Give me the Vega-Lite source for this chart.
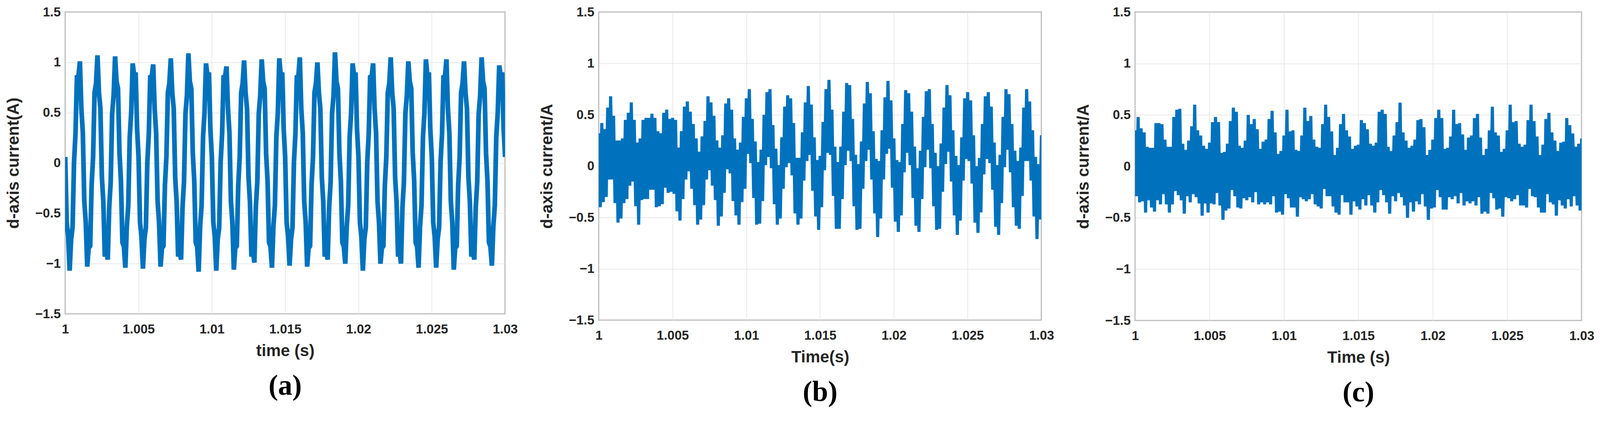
{
  "$schema": "https://vega.github.io/schema/vega-lite/v6.json",
  "background": "white",
  "padding": {"left": 12, "top": 13, "right": 0, "bottom": 0},
  "bounds": "flush",
  "spacing": 240,
  "data": {"values": [
    {"t":1.0000,"a":0.06,"b":0.32,"c":0.35},{"t":1.0001,"a":-0.59,"b":-0.40,"c":-0.29},{"t":1.0002,"a":-0.73,"b":0.42,"c":0.48},{"t":1.0003,"a":-1.07,"b":-0.35,"c":-0.35},{"t":1.0004,"a":-0.76,"b":0.36,"c":0.37},
    {"t":1.0005,"a":-0.64,"b":-0.30,"c":-0.34},{"t":1.0006,"a":0.01,"b":0.57,"c":0.33},{"t":1.0007,"a":0.29,"b":-0.13,"c":-0.45},{"t":1.0008,"a":0.87,"b":0.68,"c":0.19},{"t":1.0009,"a":0.86,"b":-0.13,"c":-0.33},
    {"t":1.0010,"a":1.01,"b":0.49,"c":0.18},{"t":1.0011,"a":0.54,"b":-0.36,"c":-0.40},{"t":1.0012,"a":0.30,"b":0.25,"c":0.18},{"t":1.0013,"a":-0.38,"b":-0.55,"c":-0.44},{"t":1.0014,"a":-0.59,"b":0.25,"c":0.42},
    {"t":1.0015,"a":-1.03,"b":-0.51,"c":-0.33},{"t":1.0016,"a":-0.84,"b":0.27,"c":0.42},{"t":1.0017,"a":-0.83,"b":-0.36,"c":-0.37},{"t":1.0018,"a":-0.22,"b":0.45,"c":0.41},{"t":1.0019,"a":0.06,"b":-0.32,"c":-0.27},
    {"t":1.0020,"a":0.70,"b":0.52,"c":0.26},{"t":1.0021,"a":0.79,"b":-0.19,"c":-0.37},{"t":1.0022,"a":1.07,"b":0.62,"c":0.19},{"t":1.0023,"a":0.70,"b":-0.15,"c":-0.45},{"t":1.0024,"a":0.54,"b":0.45,"c":0.19},
    {"t":1.0025,"a":-0.14,"b":-0.39,"c":-0.37},{"t":1.0026,"a":-0.39,"b":0.23,"c":0.48},{"t":1.0027,"a":-0.93,"b":-0.57,"c":-0.24},{"t":1.0028,"a":-0.87,"b":0.27,"c":0.55},{"t":1.0029,"a":-0.96,"b":-0.33,"c":-0.28},
    {"t":1.0030,"a":-0.44,"b":0.45,"c":0.56},{"t":1.0031,"a":-0.19,"b":-0.32,"c":-0.33},{"t":1.0032,"a":0.49,"b":0.47,"c":0.22},{"t":1.0033,"a":0.67,"b":-0.32,"c":-0.46},{"t":1.0034,"a":1.06,"b":0.47,"c":0.16},
    {"t":1.0035,"a":0.81,"b":-0.23,"c":-0.29},{"t":1.0036,"a":0.74,"b":0.51,"c":0.25},{"t":1.0037,"a":0.10,"b":-0.23,"c":-0.35},{"t":1.0038,"a":-0.18,"b":0.47,"c":0.39},{"t":1.0039,"a":-0.79,"b":-0.40,"c":-0.27},
    {"t":1.0040,"a":-0.83,"b":0.34,"c":0.60},{"t":1.0041,"a":-1.04,"b":-0.39,"c":-0.30},{"t":1.0042,"a":-0.63,"b":0.32,"c":0.35},{"t":1.0043,"a":-0.42,"b":-0.37,"c":-0.36},{"t":1.0044,"a":0.26,"b":0.52,"c":0.30},
    {"t":1.0045,"a":0.50,"b":-0.21,"c":-0.48},{"t":1.0046,"a":0.99,"b":0.55,"c":0.20},{"t":1.0047,"a":0.87,"b":-0.26,"c":-0.36},{"t":1.0048,"a":0.90,"b":0.46,"c":0.17},{"t":1.0049,"a":0.34,"b":-0.25,"c":-0.45},
    {"t":1.0050,"a":0.06,"b":0.47,"c":0.23},{"t":1.0051,"a":-0.59,"b":-0.27,"c":-0.36},{"t":1.0052,"a":-0.73,"b":0.45,"c":0.43},{"t":1.0053,"a":-1.05,"b":-0.44,"c":-0.37},{"t":1.0054,"a":-0.76,"b":0.18,"c":0.48},
    {"t":1.0055,"a":-0.64,"b":-0.53,"c":-0.26},{"t":1.0056,"a":0.01,"b":0.34,"c":0.43},{"t":1.0057,"a":0.29,"b":-0.32,"c":-0.38},{"t":1.0058,"a":0.87,"b":0.58,"c":0.13},{"t":1.0059,"a":0.86,"b":-0.13,"c":-0.52},
    {"t":1.0060,"a":0.98,"b":0.63,"c":0.14},{"t":1.0061,"a":0.54,"b":-0.05,"c":-0.43},{"t":1.0062,"a":0.30,"b":0.53,"c":0.22},{"t":1.0063,"a":-0.38,"b":-0.22,"c":-0.41},{"t":1.0064,"a":-0.59,"b":0.41,"c":0.44},
    {"t":1.0065,"a":-1.03,"b":-0.38,"c":-0.23},{"t":1.0066,"a":-0.84,"b":0.27,"c":0.57},{"t":1.0067,"a":-0.83,"b":-0.57,"c":-0.29},{"t":1.0068,"a":-0.22,"b":0.14,"c":0.53},{"t":1.0069,"a":0.06,"b":-0.52,"c":-0.40},
    {"t":1.0070,"a":0.70,"b":0.29,"c":0.20},{"t":1.0071,"a":0.79,"b":-0.38,"c":-0.41},{"t":1.0072,"a":1.04,"b":0.44,"c":0.18},{"t":1.0073,"a":0.70,"b":-0.13,"c":-0.31},{"t":1.0074,"a":0.54,"b":0.68,"c":0.25},
    {"t":1.0075,"a":-0.14,"b":-0.04,"c":-0.33},{"t":1.0076,"a":-0.39,"b":0.62,"c":0.50},{"t":1.0077,"a":-0.93,"b":-0.19,"c":-0.30},{"t":1.0078,"a":-0.87,"b":0.49,"c":0.41},{"t":1.0079,"a":-0.96,"b":-0.33,"c":-0.35},
    {"t":1.0080,"a":-0.44,"b":0.25,"c":0.46},{"t":1.0081,"a":-0.19,"b":-0.58,"c":-0.25},{"t":1.0082,"a":0.49,"b":0.18,"c":0.36},{"t":1.0083,"a":0.67,"b":-0.49,"c":-0.37},{"t":1.0084,"a":1.09,"b":0.30,"c":0.17},
    {"t":1.0085,"a":0.81,"b":-0.26,"c":-0.35},{"t":1.0086,"a":0.74,"b":0.61,"c":0.24},{"t":1.0087,"a":0.10,"b":-0.03,"c":-0.37},{"t":1.0088,"a":-0.18,"b":0.66,"c":0.26},{"t":1.0089,"a":-0.79,"b":-0.07,"c":-0.35},
    {"t":1.0090,"a":-0.83,"b":0.55,"c":0.46},{"t":1.0091,"a":-1.08,"b":-0.34,"c":-0.37},{"t":1.0092,"a":-0.63,"b":0.27,"c":0.54},{"t":1.0093,"a":-0.42,"b":-0.48,"c":-0.29},{"t":1.0094,"a":0.26,"b":0.16,"c":0.33},
    {"t":1.0095,"a":0.50,"b":-0.57,"c":-0.45},{"t":1.0096,"a":0.99,"b":0.23,"c":0.12},{"t":1.0097,"a":0.87,"b":-0.35,"c":-0.44},{"t":1.0098,"a":0.90,"b":0.48,"c":0.15},{"t":1.0099,"a":0.34,"b":-0.22,"c":-0.47},
    {"t":1.0100,"a":0.06,"b":0.66,"c":0.30},{"t":1.0101,"a":-0.59,"b":0.12,"c":-0.27},{"t":1.0102,"a":-0.73,"b":0.75,"c":0.55},{"t":1.0103,"a":-1.07,"b":0.03,"c":-0.31},{"t":1.0104,"a":-0.76,"b":0.46,"c":0.34},
    {"t":1.0105,"a":-0.64,"b":-0.31,"c":-0.40},{"t":1.0106,"a":0.01,"b":0.24,"c":0.35},{"t":1.0107,"a":0.29,"b":-0.57,"c":-0.40},{"t":1.0108,"a":0.87,"b":0.04,"c":0.16},{"t":1.0109,"a":0.86,"b":-0.56,"c":-0.49},
    {"t":1.0110,"a":0.96,"b":0.16,"c":0.15},{"t":1.0111,"a":0.54,"b":-0.34,"c":-0.30},{"t":1.0112,"a":0.30,"b":0.50,"c":0.30},{"t":1.0113,"a":-0.38,"b":0.01,"c":-0.32},{"t":1.0114,"a":-0.59,"b":0.72,"c":0.57},
    {"t":1.0115,"a":-1.06,"b":0.09,"c":-0.34},{"t":1.0116,"a":-0.84,"b":0.75,"c":0.44},{"t":1.0117,"a":-0.83,"b":-0.02,"c":-0.32},{"t":1.0118,"a":-0.22,"b":0.40,"c":0.49},{"t":1.0119,"a":0.06,"b":-0.37,"c":-0.27},
    {"t":1.0120,"a":0.70,"b":0.17,"c":0.26},{"t":1.0121,"a":0.79,"b":-0.57,"c":-0.37},{"t":1.0122,"a":1.02,"b":0.01,"c":0.19},{"t":1.0123,"a":0.70,"b":-0.51,"c":-0.39},{"t":1.0124,"a":0.54,"b":0.28,"c":0.18},
    {"t":1.0125,"a":-0.14,"b":-0.22,"c":-0.41},{"t":1.0126,"a":-0.39,"b":0.58,"c":0.41},{"t":1.0127,"a":-0.93,"b":-0.01,"c":-0.22},{"t":1.0128,"a":-0.87,"b":0.69,"c":0.60},{"t":1.0129,"a":-0.99,"b":0.03,"c":-0.29},
    {"t":1.0130,"a":-0.44,"b":0.66,"c":0.48},{"t":1.0131,"a":-0.19,"b":-0.09,"c":-0.29},{"t":1.0132,"a":0.49,"b":0.42,"c":0.34},{"t":1.0133,"a":0.67,"b":-0.46,"c":-0.39},{"t":1.0134,"a":1.03,"b":0.08,"c":0.11},
    {"t":1.0135,"a":0.81,"b":-0.57,"c":-0.45},{"t":1.0136,"a":0.74,"b":0.08,"c":0.18},{"t":1.0137,"a":0.10,"b":-0.51,"c":-0.47},{"t":1.0138,"a":-0.18,"b":0.33,"c":0.41},{"t":1.0139,"a":-0.79,"b":-0.14,"c":-0.28},
    {"t":1.0140,"a":-0.83,"b":0.62,"c":0.51},{"t":1.0141,"a":-1.04,"b":0.05,"c":-0.35},{"t":1.0142,"a":-0.63,"b":0.78,"c":0.35},{"t":1.0143,"a":-0.42,"b":0.11,"c":-0.35},{"t":1.0144,"a":0.26,"b":0.60,"c":0.29},
    {"t":1.0145,"a":0.50,"b":-0.24,"c":-0.47},{"t":1.0146,"a":1.04,"b":0.28,"c":0.17},{"t":1.0147,"a":0.87,"b":-0.49,"c":-0.34},{"t":1.0148,"a":0.90,"b":0.06,"c":0.20},{"t":1.0149,"a":0.34,"b":-0.62,"c":-0.39},
    {"t":1.0150,"a":0.06,"b":0.10,"c":0.21},{"t":1.0151,"a":-0.59,"b":-0.40,"c":-0.42},{"t":1.0152,"a":-0.73,"b":0.43,"c":0.45},{"t":1.0153,"a":-1.02,"b":-0.04,"c":-0.32},{"t":1.0154,"a":-0.76,"b":0.75,"c":0.42},
    {"t":1.0155,"a":-0.64,"b":0.13,"c":-0.38},{"t":1.0156,"a":0.01,"b":0.84,"c":0.36},{"t":1.0157,"a":0.29,"b":0.11,"c":-0.28},{"t":1.0158,"a":0.87,"b":0.55,"c":0.22},{"t":1.0159,"a":0.86,"b":-0.29,"c":-0.38},
    {"t":1.0160,"a":1.05,"b":0.19,"c":0.20},{"t":1.0161,"a":0.54,"b":-0.61,"c":-0.45},{"t":1.0162,"a":0.30,"b":0.04,"c":0.23},{"t":1.0163,"a":-0.38,"b":-0.61,"c":-0.35},{"t":1.0164,"a":-0.59,"b":0.19,"c":0.53},
    {"t":1.0165,"a":-1.03,"b":-0.32,"c":-0.23},{"t":1.0166,"a":-0.84,"b":0.53,"c":0.55},{"t":1.0167,"a":-0.83,"b":0.01,"c":-0.28},{"t":1.0168,"a":-0.22,"b":0.81,"c":0.51},{"t":1.0169,"a":0.06,"b":0.15,"c":-0.35},
    {"t":1.0170,"a":0.70,"b":0.79,"c":0.19},{"t":1.0171,"a":0.79,"b":0.05,"c":-0.46},{"t":1.0172,"a":1.00,"b":0.46,"c":0.15},{"t":1.0173,"a":0.70,"b":-0.39,"c":-0.29},{"t":1.0174,"a":0.54,"b":0.11,"c":0.30},
    {"t":1.0175,"a":-0.14,"b":-0.62,"c":-0.34},{"t":1.0176,"a":-0.39,"b":0.02,"c":0.43},{"t":1.0177,"a":-0.93,"b":-0.61,"c":-0.26},{"t":1.0178,"a":-0.87,"b":0.24,"c":0.62},{"t":1.0179,"a":-0.96,"b":-0.22,"c":-0.30},
    {"t":1.0180,"a":-0.44,"b":0.61,"c":0.33},{"t":1.0181,"a":-0.19,"b":0.05,"c":-0.38},{"t":1.0182,"a":0.49,"b":0.82,"c":0.25},{"t":1.0183,"a":0.67,"b":0.16,"c":-0.50},{"t":1.0184,"a":1.10,"b":0.71,"c":0.18},
    {"t":1.0185,"a":0.81,"b":-0.13,"c":-0.35},{"t":1.0186,"a":0.74,"b":0.34,"c":0.20},{"t":1.0187,"a":0.10,"b":-0.46,"c":-0.44},{"t":1.0188,"a":-0.18,"b":0.07,"c":0.26},{"t":1.0189,"a":-0.79,"b":-0.69,"c":-0.34},
    {"t":1.0190,"a":-0.83,"b":0.05,"c":0.45},{"t":1.0191,"a":-1.00,"b":-0.51,"c":-0.37},{"t":1.0192,"a":-0.63,"b":0.35,"c":0.46},{"t":1.0193,"a":-0.42,"b":-0.13,"c":-0.27},{"t":1.0194,"a":0.26,"b":0.67,"c":0.38},
    {"t":1.0195,"a":0.50,"b":0.12,"c":-0.39},{"t":1.0196,"a":0.99,"b":0.83,"c":0.11},{"t":1.0197,"a":0.87,"b":0.17,"c":-0.52},{"t":1.0198,"a":0.90,"b":0.64,"c":0.16},{"t":1.0199,"a":0.34,"b":-0.21,"c":-0.41},
    {"t":1.0200,"a":0.06,"b":0.27,"c":0.26},{"t":1.0201,"a":-0.59,"b":-0.54,"c":-0.40},{"t":1.0202,"a":-0.73,"b":0.06,"c":0.47},{"t":1.0203,"a":-1.07,"b":-0.64,"c":-0.23},{"t":1.0204,"a":-0.76,"b":0.04,"c":0.55},
    {"t":1.0205,"a":-0.64,"b":-0.48,"c":-0.30},{"t":1.0206,"a":0.01,"b":0.41,"c":0.47},{"t":1.0207,"a":0.29,"b":-0.06,"c":-0.42},{"t":1.0208,"a":0.87,"b":0.74,"c":0.17},{"t":1.0209,"a":0.86,"b":0.13,"c":-0.42},
    {"t":1.0210,"a":0.99,"b":0.71,"c":0.18},{"t":1.0211,"a":0.54,"b":0.01,"c":-0.30},{"t":1.0212,"a":0.30,"b":0.53,"c":0.29},{"t":1.0213,"a":-0.38,"b":-0.31,"c":-0.32},{"t":1.0214,"a":-0.59,"b":0.19,"c":0.55},
    {"t":1.0215,"a":-1.00,"b":-0.58,"c":-0.29},{"t":1.0216,"a":-0.84,"b":-0.02,"c":0.41},{"t":1.0217,"a":-0.83,"b":-0.64,"c":-0.36},{"t":1.0218,"a":-0.22,"b":0.15,"c":0.42},{"t":1.0219,"a":0.06,"b":-0.32,"c":-0.26},
    {"t":1.0220,"a":0.70,"b":0.48,"c":0.31},{"t":1.0221,"a":0.79,"b":-0.01,"c":-0.38},{"t":1.0222,"a":1.05,"b":0.73,"c":0.16},{"t":1.0223,"a":0.70,"b":0.16,"c":-0.34},{"t":1.0224,"a":0.54,"b":0.75,"c":0.28},
    {"t":1.0225,"a":-0.14,"b":-0.02,"c":-0.36},{"t":1.0226,"a":-0.39,"b":0.41,"c":0.30},{"t":1.0227,"a":-0.93,"b":-0.39,"c":-0.34},{"t":1.0228,"a":-0.87,"b":0.13,"c":0.47},{"t":1.0229,"a":-1.00,"b":-0.62,"c":-0.38},
    {"t":1.0230,"a":-0.44,"b":0.00,"c":0.51},{"t":1.0231,"a":-0.19,"b":-0.61,"c":-0.30},{"t":1.0232,"a":0.49,"b":0.22,"c":0.28},{"t":1.0233,"a":0.67,"b":-0.25,"c":-0.46},{"t":1.0234,"a":1.01,"b":0.57,"c":0.11},
    {"t":1.0235,"a":0.81,"b":0.02,"c":-0.44},{"t":1.0236,"a":0.74,"b":0.79,"c":0.17},{"t":1.0237,"a":0.10,"b":0.14,"c":-0.46},{"t":1.0238,"a":-0.18,"b":0.69,"c":0.35},{"t":1.0239,"a":-0.79,"b":-0.15,"c":-0.26},
    {"t":1.0240,"a":-0.83,"b":0.35,"c":0.58},{"t":1.0241,"a":-1.04,"b":-0.48,"c":-0.31},{"t":1.0242,"a":-0.63,"b":0.10,"c":0.33},{"t":1.0243,"a":-0.42,"b":-0.67,"c":-0.42},{"t":1.0244,"a":0.26,"b":0.01,"c":0.30},
    {"t":1.0245,"a":0.50,"b":-0.53,"c":-0.41},{"t":1.0246,"a":1.03,"b":0.28,"c":0.14},{"t":1.0247,"a":0.87,"b":-0.14,"c":-0.49},{"t":1.0248,"a":0.90,"b":0.66,"c":0.17},{"t":1.0249,"a":0.34,"b":0.07,"c":-0.30},
    {"t":1.0250,"a":0.06,"b":0.72,"c":0.35},{"t":1.0251,"a":-0.59,"b":0.05,"c":-0.31},{"t":1.0252,"a":-0.73,"b":0.64,"c":0.60},{"t":1.0253,"a":-1.04,"b":-0.17,"c":-0.34},{"t":1.0254,"a":-0.76,"b":0.30,"c":0.43},
    {"t":1.0255,"a":-0.64,"b":-0.55,"c":-0.32},{"t":1.0256,"a":0.01,"b":0.00,"c":0.44},{"t":1.0257,"a":0.29,"b":-0.65,"c":-0.28},{"t":1.0258,"a":0.87,"b":0.08,"c":0.22},{"t":1.0259,"a":0.86,"b":-0.45,"c":-0.38},
    {"t":1.0260,"a":1.03,"b":0.41,"c":0.19},{"t":1.0261,"a":0.54,"b":-0.08,"c":-0.38},{"t":1.0262,"a":0.30,"b":0.68,"c":0.21},{"t":1.0263,"a":-0.38,"b":0.07,"c":-0.40},{"t":1.0264,"a":-0.59,"b":0.72,"c":0.45},
    {"t":1.0265,"a":-1.06,"b":0.03,"c":-0.22},{"t":1.0266,"a":-0.84,"b":0.58,"c":0.60},{"t":1.0267,"a":-0.83,"b":-0.23,"c":-0.29},{"t":1.0268,"a":-0.22,"b":0.23,"c":0.44},{"t":1.0269,"a":0.06,"b":-0.59,"c":-0.30},
    {"t":1.0270,"a":0.70,"b":0.01,"c":0.29},{"t":1.0271,"a":0.79,"b":-0.67,"c":-0.40},{"t":1.0272,"a":1.01,"b":0.11,"c":0.11},{"t":1.0273,"a":0.70,"b":-0.36,"c":-0.45},{"t":1.0274,"a":0.54,"b":0.48,"c":0.21},
    {"t":1.0275,"a":-0.14,"b":-0.01,"c":-0.45},{"t":1.0276,"a":-0.39,"b":0.75,"c":0.46},{"t":1.0277,"a":-0.93,"b":0.16,"c":-0.27},{"t":1.0278,"a":-0.87,"b":0.70,"c":0.52},{"t":1.0279,"a":-0.96,"b":-0.06,"c":-0.35},
    {"t":1.0280,"a":-0.44,"b":0.41,"c":0.33},{"t":1.0281,"a":-0.19,"b":-0.40,"c":-0.37},{"t":1.0282,"a":0.49,"b":0.15,"c":0.25},{"t":1.0283,"a":0.67,"b":-0.58,"c":-0.48},{"t":1.0284,"a":1.05,"b":0.05,"c":0.15},
    {"t":1.0285,"a":0.81,"b":-0.61,"c":-0.33},{"t":1.0286,"a":0.74,"b":0.18,"c":0.23},{"t":1.0287,"a":0.10,"b":-0.29,"c":-0.38},{"t":1.0288,"a":-0.18,"b":0.57,"c":0.24},{"t":1.0289,"a":-0.79,"b":0.05,"c":-0.41},
    {"t":1.0290,"a":-0.83,"b":0.75,"c":0.47},{"t":1.0291,"a":-1.02,"b":0.05,"c":-0.32},{"t":1.0292,"a":-0.63,"b":0.63,"c":0.40},{"t":1.0293,"a":-0.42,"b":-0.14,"c":-0.39},{"t":1.0294,"a":0.26,"b":0.35,"c":0.32},
    {"t":1.0295,"a":0.50,"b":-0.49,"c":-0.29},{"t":1.0296,"a":0.97,"b":0.09,"c":0.19},{"t":1.0297,"a":0.87,"b":-0.71,"c":-0.38},{"t":1.0298,"a":0.90,"b":0.02,"c":0.22},{"t":1.0299,"a":0.34,"b":-0.52,"c":-0.43},
    {"t":1.0300,"a":0.06,"b":0.30,"c":0.27}
  ]},
  "hconcat": [
    {
      "width": 1126,
      "height": 773,
      "title": {"text": "(a)", "orient": "bottom", "frame": "group", "anchor": "middle", "offset": 34},
      "mark": {"type": "line", "color": "#0072BD", "strokeWidth": 12, "strokeJoin": "bevel", "clip": true},
      "encoding": {
        "x": {"field": "t", "type": "quantitative", "scale": {"domain": [1, 1.03], "nice": false, "zero": false},
              "axis": {"title": "time (s)", "values": [1, 1.005, 1.01, 1.015, 1.02, 1.025, 1.03]}},
        "y": {"field": "a", "type": "quantitative", "scale": {"domain": [-1.5, 1.5], "nice": false},
              "axis": {"title": "d-axis current(A)", "values": [-1.5, -1, -0.5, 0, 0.5, 1, 1.5]}}
      }
    },
    {
      "width": 1133,
      "height": 789,
      "title": {"text": "(b)", "orient": "bottom", "frame": "group", "anchor": "middle", "offset": 34},
      "mark": {"type": "line", "color": "#0072BD", "strokeWidth": 8, "strokeJoin": "bevel", "clip": true},
      "encoding": {
        "x": {"field": "t", "type": "quantitative", "scale": {"domain": [1, 1.03], "nice": false, "zero": false},
              "axis": {"title": "Time(s)", "values": [1, 1.005, 1.01, 1.015, 1.02, 1.025, 1.03]}},
        "y": {"field": "b", "type": "quantitative", "scale": {"domain": [-1.5, 1.5], "nice": false},
              "axis": {"title": "d-axis current/A", "values": [-1.5, -1, -0.5, 0, 0.5, 1, 1.5]}}
      }
    },
    {
      "width": 1143,
      "height": 790,
      "title": {"text": "(c)", "orient": "bottom", "frame": "group", "anchor": "middle", "offset": 34},
      "mark": {"type": "line", "color": "#0072BD", "strokeWidth": 8, "strokeJoin": "bevel", "clip": true},
      "encoding": {
        "x": {"field": "t", "type": "quantitative", "scale": {"domain": [1, 1.03], "nice": false, "zero": false},
              "axis": {"title": "Time (s)", "values": [1, 1.005, 1.01, 1.015, 1.02, 1.025, 1.03]}},
        "y": {"field": "c", "type": "quantitative", "scale": {"domain": [-1.5, 1.5], "nice": false},
              "axis": {"title": "d-axis current/A", "values": [-1.5, -1, -0.5, 0, 0.5, 1, 1.5]}}
      }
    }
  ],
  "config": {
    "font": "Liberation Sans",
    "view": {"stroke": "#7f7f7f", "strokeWidth": 2.5},
    "axis": {
      "format": "~g",
      "labelFont": "Liberation Sans",
      "labelFontWeight": "bold",
      "labelFontSize": 33,
      "labelColor": "#262626",
      "labelFlush": false,
      "labelOverlap": false,
      "labelBound": false,
      "titleFont": "Liberation Sans",
      "titleFontWeight": "bold",
      "titleFontSize": 42,
      "titleColor": "#262626",
      "domain": false,
      "ticks": false,
      "grid": true,
      "gridColor": "#e2e2e2",
      "gridWidth": 1.5
    },
    "axisX": {"labelPadding": 23, "titlePadding": 18},
    "axisY": {"labelPadding": 12, "titlePadding": 33},
    "title": {"font": "Liberation Serif", "fontSize": 73, "fontWeight": "bold", "color": "#000000"}
  }
}
